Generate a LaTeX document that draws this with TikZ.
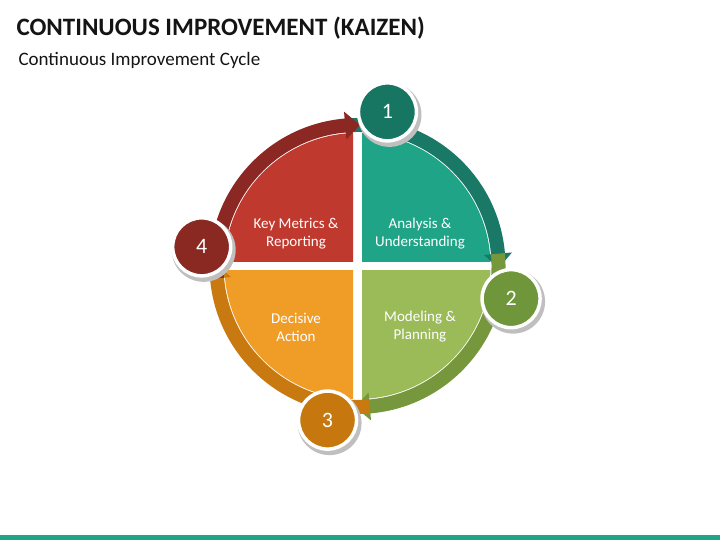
\documentclass[tikz,border=0pt]{standalone}
\usepackage{fontspec}
\setmainfont{Carlito}
\usetikzlibrary{positioning, calc}
\definecolor{tealq}{RGB}{31,164,135}
\definecolor{teala}{RGB}{25,120,102}
\definecolor{tealc}{RGB}{22,118,98}
\definecolor{greenq}{RGB}{155,187,89}
\definecolor{greena}{RGB}{118,151,60}
\definecolor{greenc}{RGB}{112,150,60}
\definecolor{orangeq}{RGB}{240,157,40}
\definecolor{orangea}{RGB}{200,122,16}
\definecolor{orangec}{RGB}{198,120,14}
\definecolor{redq}{RGB}{192,57,47}
\definecolor{reda}{RGB}{140,40,36}
\definecolor{redc}{RGB}{138,40,34}
\definecolor{titlecol}{RGB}{20,20,20}

\begin{document}
\begin{tikzpicture}[x=1pt, y=1pt,
    quadtext/.style={text=white, font=\fontsize{15}{18}\selectfont, align=center},
    stepnum/.style={circle, draw=white, line width=3.5pt, minimum size=58pt, inner sep=0pt,
                    text=white, font=\fontsize{22}{24}\selectfont}]
    \useasboundingbox (0,0) rectangle (720,540);
    % --- Title ---
    \node[anchor=west, text=titlecol, font=\bfseries\fontsize{25}{28}\selectfont] (title) at (13,512) {CONTINUOUS IMPROVEMENT (KAIZEN)};
    \node[anchor=west, text=titlecol, font=\fontsize{19}{22}\selectfont] (subtitle) at (15,480) {Continuous Improvement Cycle};
    \fill[tealq] (0,0) rectangle (720,5);

    \coordinate (C) at (357.5,274);

    % --- Quadrants ---
    \foreach \qc/\xa/\ya/\xb/\yb in {tealq/362/278.5/520/420, greenq/362/269.5/520/120,
                                     orangeq/353/269.5/190/120, redq/353/278.5/190/420} {
        \begin{scope}
            \clip (\xa,\ya) rectangle (\xb,\yb);
            \fill[\qc] (C) circle (133);
        \end{scope}
    }

    % --- Arrows ---
    \foreach \ac/\rot in {teala/0, greena/-90, orangea/-180, reda/90} {
        \begin{scope}[shift={(C)}, rotate=\rot]
            \fill[\ac] (95:134) arc[start angle=95, end angle=5, radius=134]
                -- (5:127) -- (-1:141) -- (5:155) -- (5:148)
                arc[start angle=5, end angle=95, radius=148] -- cycle;
        \end{scope}
    }

    % --- Labels ---
    \node[quadtext] (analysis) at (420,306) {Analysis \&\\Understanding};
    \node[quadtext] (metrics) at (296,306) {Key Metrics \&\\Reporting};
    \node[quadtext] (modeling) at (420,213) {Modeling \&\\Planning};
    \node[quadtext] (decisive) at (296,213) {Decisive\\Action};

    % --- Numbered circles ---
    \foreach \cc/\ang/\num in {tealc/79/1, greenc/-12/2, orangec/-101/3, redc/173/4} {
        \fill[black!25] ($(C)+(\ang:157)+(2,-3)$) circle (32);
        \node[stepnum, fill=\cc] (n\num) at ($(C)+(\ang:157)$) {\num};
    }
\end{tikzpicture}
\end{document}
